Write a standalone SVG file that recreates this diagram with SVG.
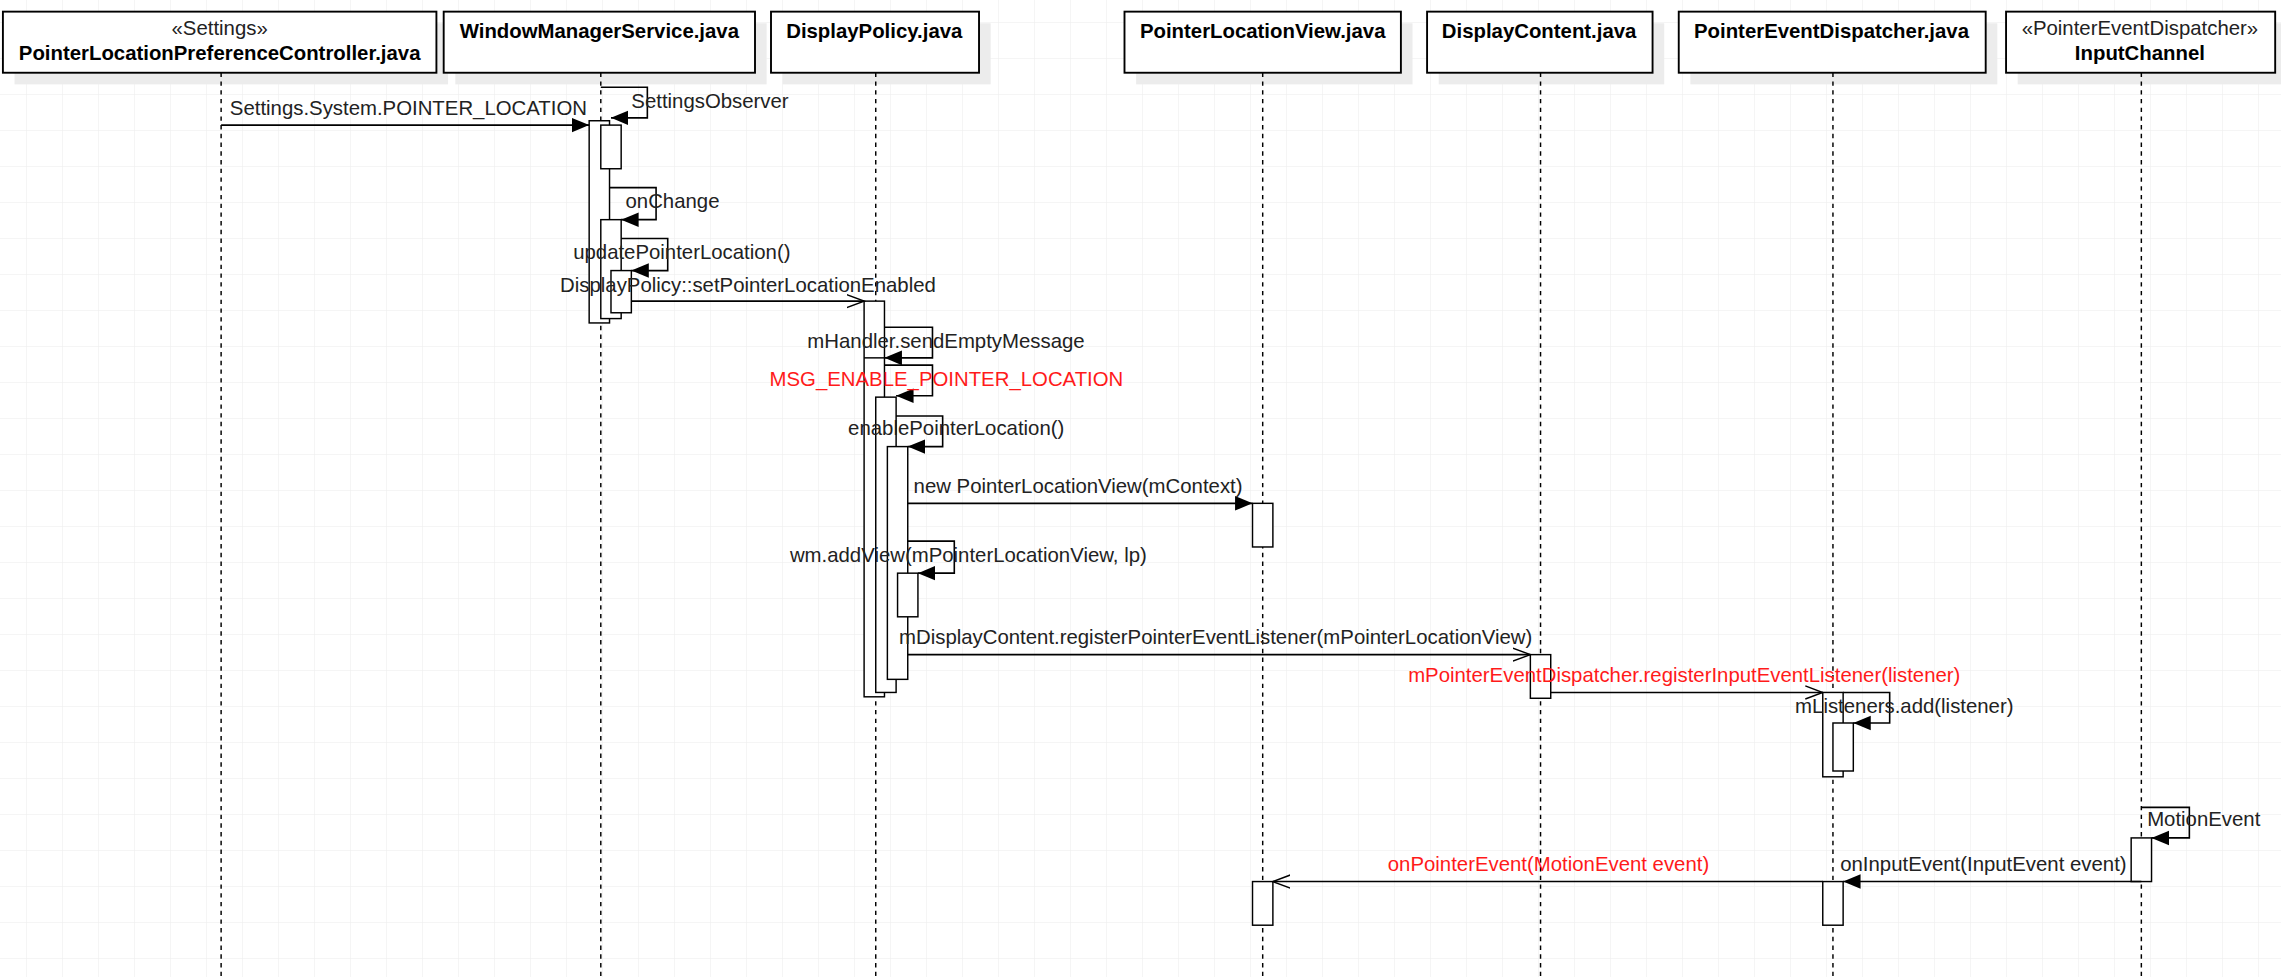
<svg xmlns="http://www.w3.org/2000/svg" width="2281" height="977" viewBox="0 0 2281 977">
<defs>
<pattern id="grid" width="36" height="36" patternUnits="userSpaceOnUse" patternTransform="translate(26,22)">
<path d="M0,0 H36 M0,0 V36" fill="none" stroke="#ebebeb" stroke-width="1"/>
</pattern>
<marker id="fa" markerUnits="userSpaceOnUse" markerWidth="13" markerHeight="12" refX="12" refY="5" orient="auto" viewBox="0 0 13 10">
<path d="M0,0 L12,5 L0,10 z" fill="#000"/>
</marker>
<marker id="oa" markerUnits="userSpaceOnUse" markerWidth="13" markerHeight="12" refX="12" refY="5" orient="auto" viewBox="0 0 13 10">
<path d="M0,0.5 L12,5 L0,9.5" fill="none" stroke="#000" stroke-width="1"/>
</marker>
</defs>
<style>
.hd{fill:#fff;stroke:#000;stroke-width:1.3}
.sh{fill:#ececec;stroke:none}
.t{font-family:"Liberation Sans",Arial,sans-serif;font-size:14px;fill:#222}
.b{font-weight:bold;text-anchor:middle;fill:#000}
.st{text-anchor:middle}
.red{fill:#ff1a1a}
.ll{stroke:#000;stroke-width:1;stroke-dasharray:3 3;fill:none}
.act{fill:#fff;stroke:#000;stroke-width:1}
.m{fill:none;stroke:#000;stroke-width:1.1}
</style>
<rect width="2281" height="977" fill="#fff"/>
<rect width="2281" height="977" fill="url(#grid)"/>
<g transform="scale(1.45472)">
<g id="shadows">
<rect class="sh" x="10" y="16" width="298" height="42"/>
<rect class="sh" x="313" y="16" width="214" height="42"/>
<rect class="sh" x="538" y="16" width="143" height="42"/>
<rect class="sh" x="781" y="16" width="190" height="42"/>
<rect class="sh" x="989" y="16" width="155" height="42"/>
<rect class="sh" x="1162" y="16" width="211" height="42"/>
<rect class="sh" x="1387" y="16" width="181" height="42"/>
</g>
<g id="lifelines">
<line class="ll" x1="152" y1="50" x2="152" y2="672"/>
<line class="ll" x1="413" y1="50" x2="413" y2="672"/>
<line class="ll" x1="602" y1="50" x2="602" y2="672"/>
<line class="ll" x1="868" y1="50" x2="868" y2="672"/>
<line class="ll" x1="1059" y1="50" x2="1059" y2="672"/>
<line class="ll" x1="1260" y1="50" x2="1260" y2="672"/>
<line class="ll" x1="1472" y1="50" x2="1472" y2="672"/>
</g>
<g id="n-settings"><rect class="hd" x="2" y="8" width="298" height="42"/><text class="t st" x="151" y="24">«Settings»</text><text class="t b" x="151" y="41">PointerLocationPreferenceController.java</text></g>
<g id="n-wms"><rect class="hd" x="305" y="8" width="214" height="42"/><text class="t b" x="412" y="26">WindowManagerService.java</text></g>
<g id="n-dp"><rect class="hd" x="530" y="8" width="143" height="42"/><text class="t b" x="601" y="26">DisplayPolicy.java</text></g>
<g id="n-plv"><rect class="hd" x="773" y="8" width="190" height="42"/><text class="t b" x="868" y="26">PointerLocationView.java</text></g>
<g id="n-dc"><rect class="hd" x="981" y="8" width="155" height="42"/><text class="t b" x="1058" y="26">DisplayContent.java</text></g>
<g id="n-ped"><rect class="hd" x="1154" y="8" width="211" height="42"/><text class="t b" x="1259" y="26">PointerEventDispatcher.java</text></g>
<g id="n-ic"><rect class="hd" x="1379" y="8" width="185" height="42"/><text class="t st" x="1471" y="24">«PointerEventDispatcher»</text><text class="t b" x="1471" y="41">InputChannel</text></g>
<g id="activations">
<rect class="act" x="405" y="83" width="14" height="139"/>
<rect class="act" x="413" y="86" width="14" height="30"/>
<rect class="act" x="413" y="151" width="14" height="68"/>
<rect class="act" x="420" y="186" width="14" height="29"/>
<rect class="act" x="594" y="207" width="14" height="272"/>
<line x1="594" y1="246" x2="608" y2="246" stroke="#000"/>
<rect class="act" x="602" y="273" width="14" height="203"/>
<rect class="act" x="610" y="307" width="14" height="160"/>
<rect class="act" x="617" y="394" width="14" height="30"/>
<rect class="act" x="861" y="346" width="14" height="30"/>
<rect class="act" x="1052" y="450" width="14" height="30"/>
<rect class="act" x="1253" y="476" width="14" height="58"/>
<rect class="act" x="1260" y="497" width="14" height="33"/>
<rect class="act" x="1465" y="576" width="14" height="30"/>
<rect class="act" x="1253" y="606" width="14" height="30"/>
<rect class="act" x="861" y="606" width="14" height="30"/>
</g>
<g id="connectors">
<path class="m" d="M152,86 H405" marker-end="url(#fa)"/>
<path class="m" d="M413,60 H445 V81 H420" marker-end="url(#fa)"/>
<path class="m" d="M419,129 H451 V151 H427" marker-end="url(#fa)"/>
<path class="m" d="M427,164 H459 V186 H434" marker-end="url(#fa)"/>
<path class="m" d="M434,207 H594" marker-end="url(#oa)"/>
<path class="m" d="M608,225 H641 V246 H608" marker-end="url(#fa)"/>
<path class="m" d="M608,251 H641 V272 H616" marker-end="url(#fa)"/>
<path class="m" d="M616,286 H648 V307 H624" marker-end="url(#fa)"/>
<path class="m" d="M624,346 H861" marker-end="url(#fa)"/>
<path class="m" d="M624,372 H656 V394 H631" marker-end="url(#fa)"/>
<path class="m" d="M624,450 H1052" marker-end="url(#oa)"/>
<path class="m" d="M1066,476 H1253" marker-end="url(#oa)"/>
<path class="m" d="M1267,476 H1299 V497 H1274" marker-end="url(#fa)"/>
<path class="m" d="M1472,555 H1505 V576 H1479" marker-end="url(#fa)"/>
<path class="m" d="M1472,606 H1267" marker-end="url(#fa)"/>
<path class="m" d="M1253,606 H875" marker-end="url(#oa)"/>
</g>
<g id="labels">
<text class="t" x="158" y="79">Settings.System.POINTER_LOCATION</text>
<text class="t" x="434" y="74">SettingsObserver</text>
<text class="t" x="430" y="143">onChange</text>
<text class="t" x="394" y="178">updatePointerLocation()</text>
<text class="t" x="385" y="201">DisplayPolicy::setPointerLocationEnabled</text>
<text class="t" x="555" y="239">mHandler.sendEmptyMessage</text>
<text class="t red" x="529" y="265">MSG_ENABLE_POINTER_LOCATION</text>
<text class="t" x="583" y="299">enablePointerLocation()</text>
<text class="t" x="628" y="339">new PointerLocationView(mContext)</text>
<text class="t" x="543" y="386">wm.addView(mPointerLocationView, lp)</text>
<text class="t" x="618" y="443">mDisplayContent.registerPointerEventListener(mPointerLocationView)</text>
<text class="t red" x="968" y="469">mPointerEventDispatcher.registerInputEventListener(listener)</text>
<text class="t" x="1234" y="490">mListeners.add(listener)</text>
<text class="t" x="1476" y="568">MotionEvent</text>
<text class="t" x="1265" y="599">onInputEvent(InputEvent event)</text>
<text class="t red" x="954" y="599">onPointerEvent(MotionEvent event)</text>
</g>
</g>
</svg>
